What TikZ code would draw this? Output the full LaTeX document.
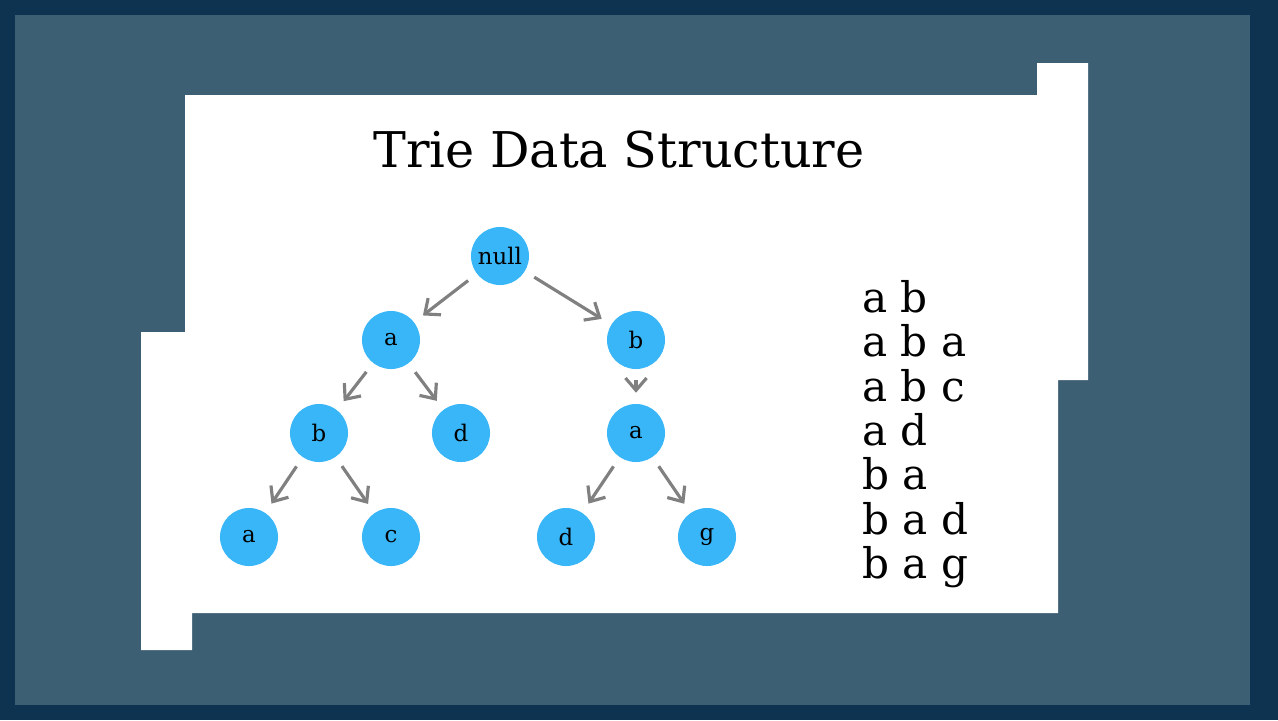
\documentclass[tikz,border=0pt]{standalone}
\usepackage{fontspec}
\setmainfont{DejaVu Serif}
\usetikzlibrary{arrows.meta}
\definecolor{outerblue}{HTML}{0D3350}
\definecolor{panelblue}{HTML}{3D5F73}
\definecolor{nodeblue}{HTML}{38B6F8}
\tikzset{
  trienode/.style={circle,fill=nodeblue,minimum size=0.58cm,inner sep=0pt,font=\fontsize{6.5}{7}\selectfont},
  triearrow/.style={-{Straight Barb[length=3.5pt,width=6pt]},draw=gray,line width=0.9pt,shorten <=3pt,shorten >=3pt}
}
\begin{document}
\begin{tikzpicture}[x=0.01cm,y=-0.01cm]
  % background
  \fill[outerblue] (0,0) rectangle (1278,720);
  \fill[panelblue] (15,15) rectangle (1250,705);
  \fill[white] (185,95) -- (1037,95) -- (1037,63) -- (1088,63) -- (1088,380) -- (1058,380)
    -- (1058,613) -- (192,613) -- (192,650) -- (141,650) -- (141,332) -- (185,332) -- cycle;

  % title
  \node (title) at (619,150) {\fontsize{14}{16}\selectfont Trie Data Structure};

  % trie nodes
  \node[trienode] (root) at (500,256) {null};
  \node[trienode] (na) at (391,340) {a};
  \node[trienode] (nb) at (636,340) {b};
  \node[trienode] (nab) at (319,433) {b};
  \node[trienode] (nad) at (461,433) {d};
  \node[trienode] (nba) at (636,433) {a};
  \node[trienode] (naba) at (249,537) {a};
  \node[trienode] (nabc) at (391,537) {c};
  \node[trienode] (nbad) at (566,537) {d};
  \node[trienode] (nbag) at (707,537) {g};

  % edges
  \foreach \s/\t in {root/na,root/nb,na/nab,na/nad,nb/nba,nab/naba,nab/nabc,nba/nbad,nba/nbag}
    \draw[triearrow] (\s) -- (\t);

  % words
  \node[anchor=north west,align=left,font=\fontsize{12}{12.6}\selectfont] (words) at (850,268)
    {a b\\a b a\\a b c\\a d\\b a\\b a d\\b a g};
\end{tikzpicture}
\end{document}
